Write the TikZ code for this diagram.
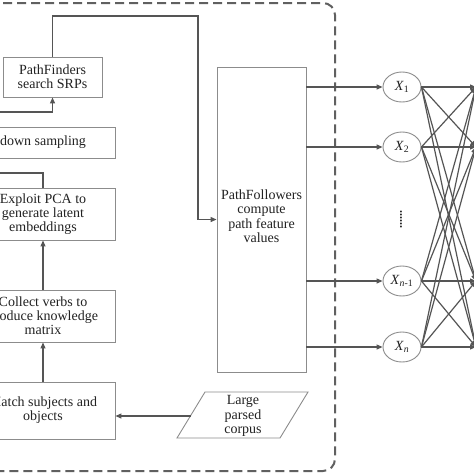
\documentclass[tikz,border=0pt]{standalone}
\usepackage{fontspec}
\setmainfont{Liberation Serif}
\usetikzlibrary{arrows.meta,shapes.geometric}
\definecolor{boxgray}{HTML}{8C8C8C}
\definecolor{arrgray}{HTML}{555555}
\definecolor{frgray}{HTML}{606060}
\definecolor{txt}{HTML}{222222}
\begin{document}
\begin{tikzpicture}[x=1pt,y=-1pt,
  boxst/.style={draw=boxgray, line width=0.9pt},
  box/.style={boxst, align=center, inner sep=0pt, text=txt, font=\fontsize{14}{14.2}\selectfont},
  tx/.style={align=center, inner sep=0pt, text=txt, font=\fontsize{14}{14.2}\selectfont},
  arr/.style={draw=arrgray, line width=1.2pt, -{Triangle[length=6pt,width=5pt]}},
  ln/.style={draw=arrgray, line width=1.2pt},
  ell/.style={ellipse, draw=boxgray, line width=0.9pt, minimum width=38pt, minimum height=30pt, inner sep=0pt, text=txt, font=\fontsize{14}{14}\selectfont},
  frame/.style={draw=frgray, line width=2pt, dash pattern=on 9pt off 5pt, rounded corners=12pt}
]
\useasboundingbox (0,0) rectangle (474,474);
\clip (0,0) rectangle (474,474);
\fill[white] (0,0) rectangle (474,474);

% dashed frame
\draw[frame] (-30,3) rectangle (335,471);

% left column boxes
\node[box, minimum width=99pt, minimum height=40pt] (pf) at (52.5,77) {PathFinders\\search SRPs};
\node[box, minimum width=144pt, minimum height=31pt] (ds) at (43,142.5) {down sampling};
\node[box, minimum width=144pt, minimum height=52pt] (pca) at (43,214) {Exploit PCA to\\generate latent\\embeddings};
\node[box, minimum width=144pt, minimum height=52pt] (col) at (43,316) {Collect verbs to\\produce knowledge\\matrix};
\node[box, minimum width=144pt, minimum height=57pt] (mat) at (43,410.5) {Match subjects and\\objects};

% PathFollowers
\node[boxst, minimum width=89pt, minimum height=305pt, inner sep=0pt] (pfo) at (261.5,219.5) {};
\node[tx] (pfotxt) at (261.5,216.3) {PathFollowers\\compute\\path feature\\values};

% corpus parallelogram
\draw[boxst] (177,438) -- (280,438) -- (308,392) -- (205,392) -- cycle;
\node[tx] (corpus) at (243,416) {Large\\parsed\\corpus};
\coordinate (corpusL) at (190.5,416);

% flow connectors
\draw[arr] (mat.north) -- (col.south);
\draw[arr] (col.north) -- (pca.south);
\coordinate (pcaout) at (-10,173);
\draw[ln] (pca.north) |- (pcaout);
\coordinate (inL) at (-10,112);
\draw[arr] (inL) -| (pf.south);
\coordinate (tr) at (198,16);
\draw[arr] (pf.north) |- (tr) |- (pfo.west);
\draw[arr] (corpusL) -- (mat.east |- corpusL);

% input layer
\node[ell] (x1) at (402,87) {\textit{X}\textsubscript{1}};
\node[ell] (x2) at (402,147) {\textit{X}\textsubscript{2}};
\node[ell] (x3) at (402,281) {\textit{X}\textsubscript{\textit{n}-1}};
\node[ell] (x4) at (402,347) {\textit{X}\textsubscript{\textit{n}}};
\node[rotate=90, inner sep=0pt, text=txt, font=\fontsize{12}{12}\selectfont\bfseries] (dots) at (401,219) {......};

\foreach \i in {1,...,4}{
  \draw[arr] (pfo.east |- x\i) -- (x\i.west);
}
\coordinate (y1) at (476,87);
\coordinate (y2) at (476,147);
\coordinate (y3) at (476,281);
\coordinate (y4) at (476,347);
\foreach \i in {1,...,4}{
  \foreach \j in {1,...,4}{
    \draw[arr] (x\i.east) -- (y\j);
  }
}
\end{tikzpicture}
\end{document}
